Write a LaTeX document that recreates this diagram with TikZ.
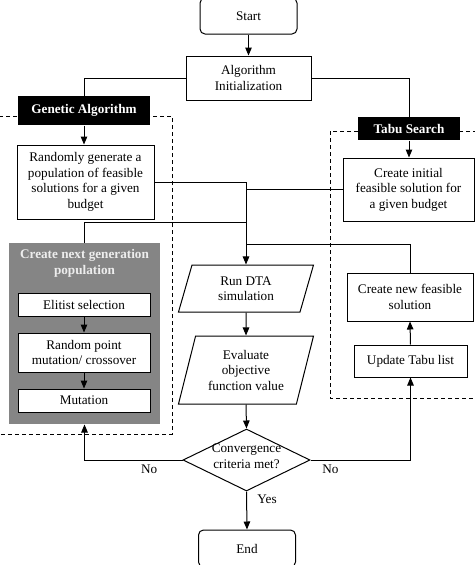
\documentclass[tikz,border=0pt]{standalone}
\usepackage{fontspec}
\setmainfont{Liberation Serif}
\usetikzlibrary{
  arrows.meta,
  positioning,
  shapes.geometric
}
\definecolor{panelGray}{rgb}{0.52,0.52,0.52}
\definecolor{titleGray}{rgb}{0.93,0.93,0.93}
\newcommand{\flowfont}{\fontsize{13.2}{15.5}\selectfont}
\tikzset{
  box/.style={
    draw,
    rectangle,
    fill=white,
    inner sep = 0pt,
    align = center
  },
  terminal/.style={box, rounded corners=5pt, minimum width=97pt},
  tag/.style={
    rectangle,
    fill=black,
    text=white,
    inner sep = 0pt,
    font=\flowfont\bfseries
  },
  io/.style={
    draw,
    trapezium,
    trapezium stretches body,
    trapezium left angle=61,
    trapezium right angle=119,
    inner sep = 0pt,
    align = center,
    minimum width = 135pt
  },
  decision/.style={
    draw,
    diamond,
    inner sep = 0pt,
    minimum width = 127pt,
    minimum height = 62pt
  },
  region/.style={dash pattern=on 4pt off 3pt}
}

\begin{document}
\begin{tikzpicture}[>={Triangle[length=8pt,width=6.5pt]}, x=1pt, y=-1pt,
    line width=1pt, font=\flowfont]
    \useasboundingbox (0,0) rectangle (474,565);

    % dashed regions of the two searches
    \draw[region] (-10,116) rectangle (172,434);
    \draw[region] (330,131) rectangle (490,398);

    \node[terminal, minimum height=36pt] (start) at (248.5,16) {Start};
    \node[box, minimum width=125pt, minimum height=44pt] (init) at (248.5,78) {Algorithm\\Initialization};

    \node[tag, minimum width=132pt, minimum height=29pt] (ga) at (84,110.5) {Genetic Algorithm};
    \node[tag, minimum width=102pt, minimum height=23pt] (ts) at (409,128.5) {Tabu Search};

    \node[box, minimum width=137pt, minimum height=74pt] (rand) at (85.5,182) {Randomly generate a\\population of feasible\\solutions for a given\\budget};
    \node[box, minimum width=131pt, minimum height=63pt] (cinit) at (408.5,189.5) {Create initial\\feasible solution for\\a given budget};

    % next generation panel
    \node[fill=panelGray, minimum width=151pt, minimum height=181pt, inner sep=0pt] (gen) at (84.5,333.5) {};
    \node[text=titleGray, font=\flowfont\bfseries, align=center] (gentitle) at (84.5,263.5) {Create next generation\\population};
    \node[box, minimum width=132pt, minimum height=23pt] (elit) at (84,304.5) {Elitist selection};
    \node[box, minimum width=132pt, minimum height=39pt] (cross) at (84,352.5) {Random point\\mutation/ crossover};
    \node[box, minimum width=132pt, minimum height=23pt] (mut) at (84,400.5) {Mutation};

    \node[io, minimum height=47pt] (dta) at (246,288.5) {Run DTA\\simulation};
    \node[io, minimum height=68pt, trapezium left angle=67, trapezium right angle=113] (eval) at (246,370) {Evaluate\\objective\\function value};
    \node[decision] (conv) at (246.5,460) {};
    \node[align=center] (convtext) at (246.5,456) {Convergence\\criteria met?};
    \node[terminal, minimum height=37pt] (end) at (247,548.5) {End};

    \node[box, minimum width=126pt, minimum height=48pt] (cnew) at (410,297) {Create new feasible\\solution};
    \node[box, minimum width=113pt, minimum height=32pt] (upd) at (410.5,361) {Update Tabu list};

    \coordinate (genjoin) at (246,222);
    \coordinate (tsjoin) at (246,244);

    \draw[->] (start) -- (init);
    \draw (init.west) -| (ga.north);
    \draw (init.east) -| (ts.north);
    \draw[->] (ga.south) -- (ga.south |- rand.north);
    \draw[->] (ts.south) -- (ts.south |- cinit.north);
    \draw[->] (rand.east) -| (dta.north);
    \draw (cinit.west) -- (cinit.west -| dta.north);
    \draw (gen.north) |- (genjoin);
    \draw (tsjoin) -| (cnew.north);
    \draw[->] (elit) -- (cross);
    \draw[->] (cross) -- (mut);
    \draw[->] (dta.south) -- (eval.north);
    \draw[->] (eval.south) -- (conv.north);
    \draw[->] (conv.west) -| node[pos=0.17, below=1pt] {No} (gen.south);
    \draw[->] (conv.east) -| node[pos=0.1, below=1pt] {No} (upd.south);
    \draw[->] (conv.south) -- node[pos=0.2, right=7pt] {Yes} (end.north);
    \draw[->] (upd.north) -- (cnew.south);
\end{tikzpicture}
\end{document}
